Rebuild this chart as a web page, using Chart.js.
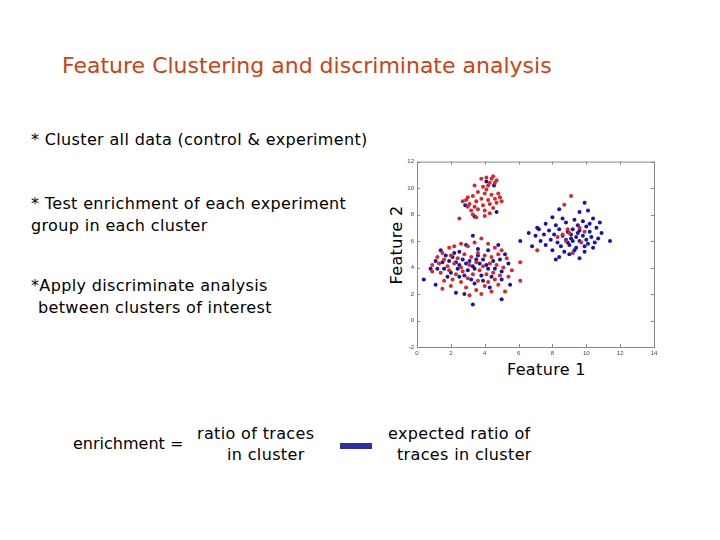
<!DOCTYPE html>
<html>
<head>
<meta charset="utf-8">
<script src="https://cdn.jsdelivr.net/npm/chart.js@4.4.1/dist/chart.umd.min.js"></script>
<style>
  body { margin: 0; width: 720px; height: 540px; background: #fff; position: relative; overflow: hidden; font-family: "DejaVu Sans", sans-serif; }
  .t { position: absolute; white-space: nowrap; color: #000; font-size: 16px; letter-spacing: 0.35px; }
  #title { left: 62px; top: 53px; font-size: 22px; letter-spacing: 0; color: #d0400f; }
  #wrap { position: absolute; left: 400px; top: 155px; width: 262px; height: 210px; }
  #bar { position: absolute; left: 340px; top: 443px; width: 32px; height: 6px; background: #2d2da8; }
</style>
</head>
<body>
<div class="t" id="title">Feature Clustering and discriminate analysis</div>
<div class="t" style="left:31px;top:130px">* Cluster all data (control &amp; experiment)</div>
<div class="t" style="left:31px;top:194px">* Test enrichment of each experiment</div>
<div class="t" style="left:31px;top:216px">group in each cluster</div>
<div class="t" style="left:31px;top:276px">*Apply discriminate analysis</div>
<div class="t" style="left:38px;top:298px">between clusters of interest</div>
<div class="t" style="left:396px;top:245px;font-size:16px;transform:translate(-50%,-50%) rotate(-90deg);transform-origin:center">Feature 2</div>
<div class="t" style="left:507px;top:360px;font-size:16px">Feature 1</div>
<div class="t" style="left:73px;top:434px;letter-spacing:0">enrichment =</div>
<div class="t" style="left:197px;top:424px">ratio of traces</div>
<div class="t" style="left:227px;top:445px">in cluster</div>
<div id="bar"></div>
<div class="t" style="left:388px;top:424px">expected ratio of</div>
<div class="t" style="left:397px;top:445px">traces in cluster</div>
<div id="wrap"><canvas id="scatter"></canvas></div>
<script>
const xTicks = [0, 2, 4, 6, 8, 10, 12, 14];
const yTicks = [-2, 0, 2, 4, 6, 8, 10, 12];

// red (control) points
const redPoints = [
  [3.4,10.2],[3.8,10.7],[4.1,10.8],[4.4,10.7],[4.5,10.9],[4.3,10.4],[4.6,10.4],[3.9,10.1],[4.2,10.2],[4.7,10.6],
  [3.6,9.7],[4.0,9.6],[4.4,9.5],[4.8,9.6],[3.3,9.4],[3.0,9.3],[2.9,9.1],[3.5,9.0],[3.8,9.2],[4.2,9.1],
  [4.6,9.2],[4.9,9.3],[2.7,9.0],[3.1,8.8],[3.4,8.6],[3.9,8.7],[4.3,8.8],[4.7,8.9],[5.0,9.0],[3.2,8.3],
  [3.6,8.4],[4.0,8.3],[4.5,8.5],[3.3,8.0],[3.5,7.8],[4.0,7.9],[2.5,7.7],[4.3,8.1],[3.0,8.6],[4.1,9.9],
  [1.5,5.1],[1.9,5.5],[2.2,5.6],[2.6,5.8],[3.0,5.6],[3.4,5.9],[3.8,6.2],[4.2,5.8],[4.6,5.5],[5.0,5.3],
  [1.2,4.8],[1.6,4.6],[2.0,4.9],[2.4,4.7],[2.8,5.0],[3.2,4.8],[3.6,5.1],[4.0,4.9],[4.4,4.8],[4.8,5.0],
  [5.3,4.7],[0.9,4.2],[1.3,4.3],[1.8,4.1],[2.2,4.3],[2.6,4.0],[3.1,4.2],[3.5,4.4],[3.9,4.1],[4.3,4.3],
  [4.7,4.2],[5.1,4.0],[5.6,3.8],[6.1,4.4],[0.9,3.7],[1.4,3.6],[1.9,3.8],[2.3,3.5],[2.7,3.7],[3.3,3.5],
  [3.7,3.8],[4.1,3.5],[4.5,3.6],[4.9,3.4],[5.4,3.3],[1.6,3.0],[2.1,3.1],[2.6,2.9],[3.0,3.2],[3.6,3.0],
  [4.2,2.9],[4.6,3.1],[1.5,2.4],[2.0,2.6],[2.9,2.5],[3.5,2.3],[4.0,2.6],[4.4,2.2],[3.1,1.9],[5.2,2.2],
  [6.1,3.0],[4.8,2.7],[3.8,2.0],
  [9.1,9.4],[8.7,8.75],[8.9,6.9],[9.0,6.6],[8.6,6.5],[8.3,6.3],[9.6,7.0],[9.9,6.7],[8.8,6.0],[9.7,5.9],
  [7.1,5.3],[9.2,5.1]
];

// blue (experiment) points
const bluePoints = [
  [4.1,10.5],[4.55,10.2],[2.85,8.7],[4.7,8.2],[3.4,7.85],
  [1.4,5.3],[1.7,4.9],[2.1,4.8],[2.5,5.2],[2.9,5.7],[3.3,6.4],[3.6,5.4],[4.2,5.3],[4.8,5.7],[5.2,5.0],
  [1.1,4.5],[1.5,4.4],[1.9,4.5],[2.3,4.4],[2.5,4.2],[2.7,4.6],[2.9,4.3],[3.1,4.5],[3.3,4.1],[3.5,4.6],
  [3.7,4.3],[3.9,4.6],[4.1,4.2],[4.5,4.5],[4.9,4.6],[5.4,4.3],[0.8,3.9],[1.2,3.9],[1.6,3.9],[2.0,3.6],
  [2.4,3.9],[2.8,3.4],[3.0,3.8],[3.4,3.9],[3.8,3.4],[4.2,3.9],[4.6,3.9],[5.0,3.7],[0.4,3.1],[1.8,3.3],
  [2.5,3.3],[3.2,3.1],[3.9,3.0],[4.4,3.3],[5.0,3.1],[5.5,2.7],[2.3,2.1],[3.4,2.8],[4.3,2.5],[3.3,1.2],
  [5.0,1.6],[2.8,2.0],[1.1,2.7],[3.6,4.9],[2.2,5.1],
  [9.9,8.9],[8.4,8.4],[9.6,8.2],[10.1,8.3],[8.0,7.8],[8.6,7.7],[9.3,7.6],[9.8,7.5],[10.4,7.7],[10.8,7.4],
  [7.6,7.3],[8.2,7.2],[8.8,7.4],[9.5,7.2],[10.0,7.1],[10.6,7.0],[7.2,6.9],[7.8,6.8],[8.4,6.9],[8.9,6.7],
  [9.2,6.9],[9.6,6.8],[10.2,6.7],[10.9,6.6],[6.6,6.6],[7.0,6.4],[7.5,6.5],[8.1,6.5],[8.6,6.4],[9.1,6.5],
  [9.4,6.3],[9.8,6.4],[10.3,6.3],[10.7,6.2],[6.1,6.0],[7.3,6.0],[7.9,6.1],[8.3,5.9],[8.8,6.1],[9.2,6.0],
  [9.6,6.0],[10.0,6.1],[10.5,5.9],[11.4,6.0],[6.8,5.6],[7.6,5.7],[8.5,5.6],[9.0,5.7],[9.4,5.5],[9.9,5.6],
  [10.4,5.5],[8.0,5.3],[8.7,5.2],[9.3,5.3],[9.9,5.2],[8.4,4.8],[9.0,5.0],[9.6,4.7],[8.2,4.6],[9.1,6.2],
  [8.9,5.9],[9.5,6.6],[10.1,5.8],[7.1,7.0],[10.2,7.3]
];

const toXY = arr => arr.map(p => ({ x: p[0], y: p[1] }));

// matlab style box with inward ticks
const boxPlugin = {
  id: 'box',
  afterDraw(chart) {
    const { ctx, chartArea: a, scales } = chart;
    ctx.save();
    ctx.strokeStyle = '#888';
    ctx.lineWidth = 1;
    ctx.strokeRect(a.left + 0.5, a.top + 0.5, a.right - a.left, a.bottom - a.top);
    xTicks.forEach(v => {
      const px = Math.round(scales.x.getPixelForValue(v)) + 0.5;
      ctx.beginPath();
      ctx.moveTo(px, a.bottom); ctx.lineTo(px, a.bottom - 3);
      ctx.moveTo(px, a.top); ctx.lineTo(px, a.top + 3);
      ctx.stroke();
    });
    yTicks.forEach(v => {
      const py = Math.round(scales.y.getPixelForValue(v)) + 0.5;
      ctx.beginPath();
      ctx.moveTo(a.left, py); ctx.lineTo(a.left + 3, py);
      ctx.moveTo(a.right, py); ctx.lineTo(a.right - 3, py);
      ctx.stroke();
    });
    ctx.restore();
  }
};

new Chart(document.getElementById('scatter'), {
  type: 'scatter',
  data: {
    datasets: [
      { label: 'control', data: toXY(redPoints), backgroundColor: '#e02424', borderColor: '#e02424', pointRadius: 2, borderWidth: 0 },
      { label: 'experiment', data: toXY(bluePoints), backgroundColor: '#1414b4', borderColor: '#1414b4', pointRadius: 2, borderWidth: 0 }
    ]
  },
  options: {
    responsive: true,
    maintainAspectRatio: false,
    animation: false,
    layout: { padding: { top: 6, right: 8, left: 0, bottom: 0 } },
    plugins: { legend: { display: false }, tooltip: { enabled: false } },
    scales: {
      x: {
        type: 'linear', min: 0, max: 14,
        afterBuildTicks: s => { s.ticks = xTicks.map(v => ({ value: v })); },
        afterFit: s => { s.height = 18; },
        grid: { display: false, drawTicks: false },
        border: { display: false },
        ticks: { font: { size: 6 }, color: '#444', padding: 3, maxRotation: 0 }
      },
      y: {
        type: 'linear', min: -2, max: 12,
        afterBuildTicks: s => { s.ticks = yTicks.map(v => ({ value: v })); },
        afterFit: s => { s.width = 17; },
        grid: { display: false, drawTicks: false },
        border: { display: false },
        ticks: { font: { size: 6 }, color: '#444', padding: 3 }
      }
    }
  },
  plugins: [boxPlugin]
});
</script>
</body>
</html>
